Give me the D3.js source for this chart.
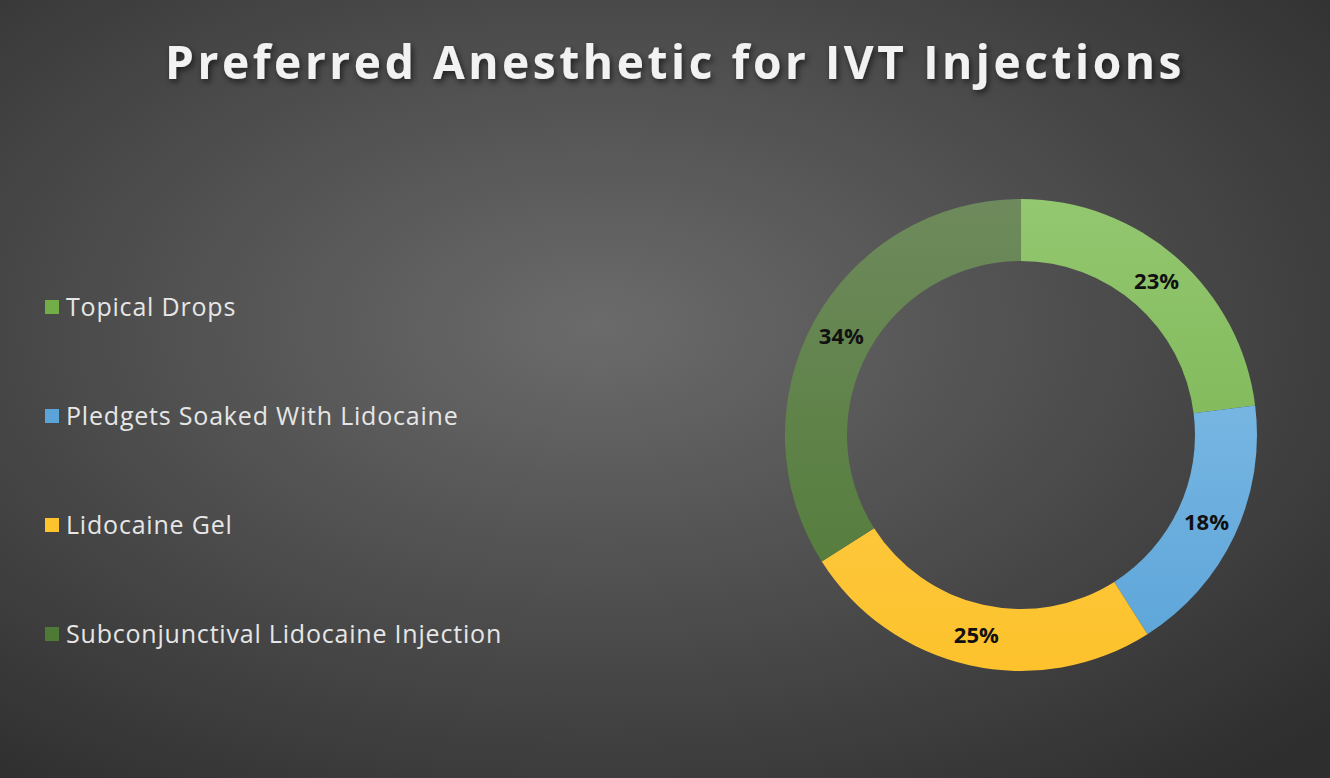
<!DOCTYPE html>
<html><head><meta charset="utf-8">
<script src="https://cdn.jsdelivr.net/npm/d3@7"></script>
<style>body{margin:0;background:#333}svg{display:block}</style>
</head><body>
<script>
const categories=["Topical Drops","Pledgets Soaked With Lidocaine","Lidocaine Gel","Subconjunctival Lidocaine Injection"];
const values=[23,18,25,34];
const labels=["23%","18%","25%","34%"];
const colors=["#72ad47","#5ba4d8","#fdc22c","#4f7a35"];
const lightColors=["#93c770","#8cc3ea","#fdd35c","#6e8a5c"];

const W=1330,H=778;
const svg=d3.select("body").append("svg").attr("width",W).attr("height",H);
const defs=svg.append("defs");
const bg=defs.append("radialGradient").attr("id","bg").attr("cx","0.45").attr("cy","0.42").attr("r","0.75");
bg.append("stop").attr("offset","0").attr("stop-color","#6b6b6b");
bg.append("stop").attr("offset","1").attr("stop-color","#2e2e2e");
svg.append("rect").attr("width",W).attr("height",H).attr("fill","url(#bg)");
const sh=defs.append("filter").attr("id","sh");
sh.append("feDropShadow").attr("dx",2).attr("dy",3).attr("stdDeviation",3).attr("flood-color","#000").attr("flood-opacity",0.6);

svg.append("text").attr("x",675).attr("y",79).attr("text-anchor","middle")
 .attr("font-family","Open Sans, sans-serif").attr("font-weight","bold").attr("font-size",46)
 .attr("letter-spacing",3.6).attr("fill","#f2f2f2").attr("filter","url(#sh)")
 .text("Preferred Anesthetic for IVT Injections");

colors.forEach((c,i)=>{
  const g=defs.append("linearGradient").attr("id","g"+i).attr("gradientUnits","userSpaceOnUse")
   .attr("x1",0).attr("y1",-235).attr("x2",0).attr("y2",235);
  g.append("stop").attr("offset","0").attr("stop-color",lightColors[i]);
  g.append("stop").attr("offset","1").attr("stop-color",c);
});

const cx=1021,cy=435,R=236,r=174;
const pie=d3.pie().sort(null).value(d=>d)(values);
const arc=d3.arc().innerRadius(r).outerRadius(R);
const g=svg.append("g").attr("transform",`translate(${cx},${cy})`);
g.selectAll("path").data(pie).join("path").attr("d",arc)
 .attr("fill",(d,i)=>`url(#g${i})`);
const la=d3.arc().innerRadius((r+R)/2).outerRadius((r+R)/2);
g.selectAll("text").data(pie).join("text")
 .attr("transform",(d,i)=>`translate(${la.centroid(d)})`)
 .attr("text-anchor","middle").attr("dy","0.35em")
 .attr("font-family","Open Sans, sans-serif").attr("font-weight","bold").attr("font-size",22)
 .attr("fill","#111").text((d,i)=>labels[i]);

const leg=svg.append("g");
categories.forEach((c,i)=>{
  const y=307+i*109;
  leg.append("rect").attr("x",45).attr("y",y-7).attr("width",14).attr("height",14).attr("fill",colors[i]);
  leg.append("text").attr("x",66).attr("y",y).attr("dy","0.35em")
   .attr("font-family","Open Sans, sans-serif").attr("font-size",25).attr("letter-spacing",0.8)
   .attr("fill","#e6e6e6").text(c);
});
</script>
</body></html>
